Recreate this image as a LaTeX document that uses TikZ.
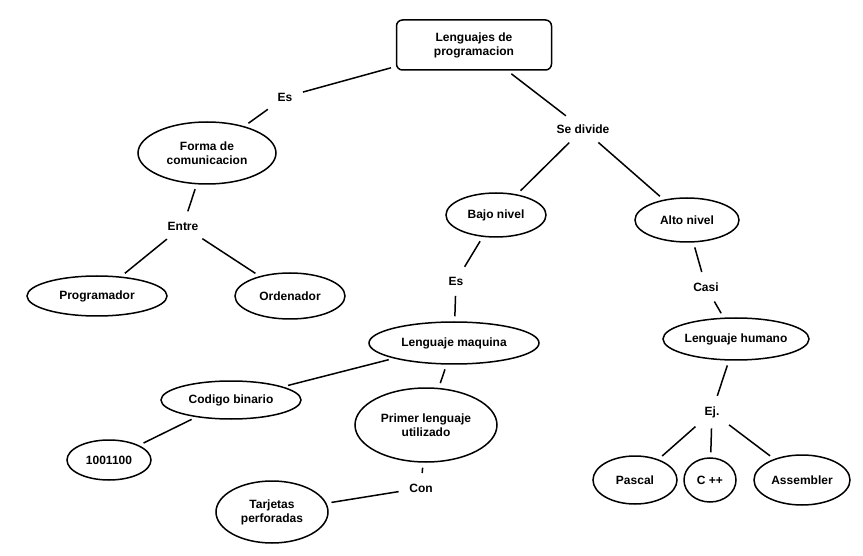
\documentclass[tikz,border=0pt]{standalone}
\usepackage{fontspec}
\setmainfont{Liberation Sans}
\usetikzlibrary{shapes.geometric}
\begin{document}
\begin{tikzpicture}[x=1pt,y=-1pt,line width=1.5pt,
  font=\bfseries\fontsize{12}{14}\selectfont,
  bubble/.style={draw,ellipse,align=center,inner sep=0pt},
  tag/.style={inner sep=5pt},
  link/.style={shorten <=5pt,shorten >=5pt}]
\useasboundingbox (0,0) rectangle (863,556);

\node [draw,rounded corners=6pt,align=center,minimum width=155,minimum height=50] (root) at (474,45) {Lenguajes de\\programacion};
\node [tag] (es1) at (285,97) {Es};
\node [bubble,minimum width=138,minimum height=62] (forma) at (207,153) {Forma de\\comunicacion};
\node [tag] (entre) at (183,226) {Entre};
\node [bubble,minimum width=140,minimum height=40] (prog) at (97,296) {Programador};
\node [bubble,minimum width=110,minimum height=46] (orden) at (290,296) {Ordenador};
\node [tag] (divide) at (583,129) {Se divide};
\node [bubble,minimum width=100,minimum height=44] (bajo) at (496,215) {Bajo nivel};
\node [bubble,minimum width=104,minimum height=44] (alto) at (687,220) {Alto nivel};
\node [tag] (es2) at (456,281) {Es};
\node [tag] (casi) at (706,287) {Casi};
\node [bubble,minimum width=170,minimum height=42] (maquina) at (454,343) {Lenguaje maquina};
\node [bubble,minimum width=146,minimum height=42] (humano) at (736,339) {Lenguaje humano};
\node [bubble,minimum width=140,minimum height=38] (binario) at (231,400) {Codigo binario};
\node [bubble,minimum width=142,minimum height=74] (primer) at (426,425) {Primer lenguaje\\utilizado};
\node [bubble,minimum width=84,minimum height=40] (bits) at (109,460) {1001100};
\node [tag] (con) at (421,488) {Con};
\node [bubble,minimum width=112,minimum height=62] (tarjetas) at (272,512) {Tarjetas\\perforadas};
\node [tag] (ej) at (712,412) {Ej.};
\node [bubble,minimum width=84,minimum height=48] (pascal) at (635,480) {Pascal};
\node [bubble,minimum width=52,minimum height=44] (cpp) at (710,480) {C ++};
\node [bubble,minimum width=96,minimum height=50] (asm) at (802,480) {Assembler};

\draw [link] (root) -- (es1);
\draw [link] (es1) -- (forma);
\draw [link] (forma) -- (entre);
\draw [link] (entre) -- (prog);
\draw [link] (entre) -- (orden);
\draw [link] (root) -- (divide);
\draw [link] (divide) -- (bajo);
\draw [link] (divide) -- (alto);
\draw [link] (bajo) -- (es2);
\draw [link] (es2) -- (maquina);
\draw [link] (alto) -- (casi);
\draw [link] (casi) -- (humano);
\draw [link] (maquina) -- (binario);
\draw [link] (maquina) -- (primer);
\draw [link] (binario) -- (bits);
\draw [link] (primer) -- (con);
\draw [link] (con) -- (tarjetas);
\draw [link] (humano) -- (ej);
\draw [link] (ej) -- (pascal);
\draw [link] (ej) -- (cpp);
\draw [link] (ej) -- (asm);
\end{tikzpicture}
\end{document}
